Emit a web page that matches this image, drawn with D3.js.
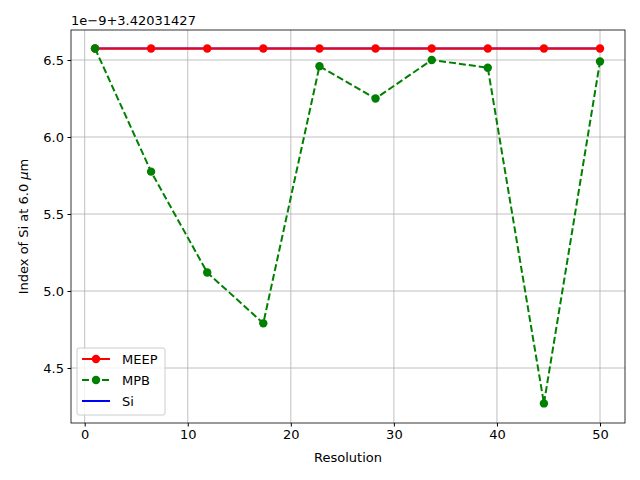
<!DOCTYPE html>
<html><head><meta charset="utf-8">
<script src="https://cdn.jsdelivr.net/npm/d3@7"></script>
<style>body{margin:0;background:#fff}text{font-family:"DejaVu Sans",sans-serif}</style>
</head><body>
<svg id="c" width="640" height="480"></svg>
<script>
// values are offsets in units of 1e-9 above 3.42031427
const resolution = [1, 6.44, 11.89, 17.33, 22.78, 28.22, 33.67, 39.11, 44.56, 50];
const meep = [6.575, 6.575, 6.575, 6.575, 6.575, 6.575, 6.575, 6.575, 6.575, 6.575];
const mpb = [6.575, 5.775, 5.12, 4.79, 6.46, 6.25, 6.50, 6.45, 4.27, 6.49];
const si = [6.575, 6.575];
const xTicks = [0, 10, 20, 30, 40, 50];
const yTicks = [4.5, 5.0, 5.5, 6.0, 6.5];

const L = 71, R = 625, T = 30, B = 423;
const svg = d3.select("#c");
const x = d3.scaleLinear().domain([0, 50]).range([84.7, 600]);
const y = d3.scaleLinear().domain([4.5, 6.5]).range([368, 60]);

// grid
svg.append("g").selectAll("line").data(xTicks).join("line")
  .attr("x1", d => x(d)).attr("x2", d => x(d)).attr("y1", T).attr("y2", B)
  .attr("stroke", "#b0b0b0").attr("stroke-width", 0.8);
svg.append("g").selectAll("line").data(yTicks).join("line")
  .attr("y1", d => y(d)).attr("y2", d => y(d)).attr("x1", L).attr("x2", R)
  .attr("stroke", "#b0b0b0").attr("stroke-width", 0.8);

const line = d3.line().x(d => x(d[0])).y(d => y(d[1]));
svg.append("path").attr("d", line([[resolution[0], si[0]], [resolution[9], si[1]]]))
  .attr("stroke", "blue").attr("stroke-width", 2).attr("fill", "none");
svg.append("path").attr("d", line(resolution.map((r, i) => [r, meep[i]])))
  .attr("stroke", "red").attr("stroke-width", 2).attr("fill", "none");
svg.selectAll(".pm").data(resolution).join("circle")
  .attr("cx", d => x(d)).attr("cy", (d, i) => y(meep[i])).attr("r", 4.2).attr("fill", "red");
svg.append("path").attr("d", line(resolution.map((r, i) => [r, mpb[i]])))
  .attr("stroke", "green").attr("stroke-width", 2).attr("stroke-dasharray", "7,3").attr("fill", "none");
svg.selectAll(".pg").data(resolution).join("circle")
  .attr("cx", d => x(d)).attr("cy", (d, i) => y(mpb[i])).attr("r", 4.2).attr("fill", "green");

// axes
const gx = svg.append("g").attr("transform", `translate(0,${B})`)
  .call(d3.axisBottom(x).tickValues(xTicks).tickSize(3.5).tickPadding(3.5));
const gy = svg.append("g").attr("transform", `translate(${L},0)`)
  .call(d3.axisLeft(y).tickValues(yTicks).tickFormat(d3.format(".1f")).tickSize(3.5).tickPadding(3.5));
[gx, gy].forEach(g => { g.select(".domain").remove(); g.selectAll("text").attr("font-size", 13).attr("fill", "#000"); g.selectAll("line").attr("stroke", "#000"); });
svg.append("rect").attr("x", L).attr("y", T).attr("width", R - L).attr("height", B - T)
  .attr("fill", "none").attr("stroke", "#000").attr("stroke-width", 0.8);

svg.append("text").attr("x", L).attr("y", 25).attr("font-size", 13).text("1e\u22129+3.42031427");
svg.append("text").attr("x", (L + R) / 2).attr("y", 462).attr("text-anchor", "middle").attr("font-size", 13).text("Resolution");
svg.append("text").attr("transform", `translate(28,${(T + B) / 2}) rotate(-90)`).attr("text-anchor", "middle").attr("font-size", 13)
  .html('Index of Si at 6.0 <tspan font-style="italic">\u03bc</tspan>m');

// legend
const lg = svg.append("g").attr("transform", "translate(77,348)");
lg.append("rect").attr("width", 88).attr("height", 67).attr("rx", 2).attr("fill", "#fff").attr("fill-opacity", 0.8).attr("stroke", "#ccc");
const items = [["MEEP", "red", true, null], ["MPB", "green", true, "7,3"], ["Si", "blue", false, null]];
items.forEach((it, i) => {
  const yy = 11 + i * 21;
  lg.append("line").attr("x1", 5).attr("x2", 33).attr("y1", yy).attr("y2", yy).attr("stroke", it[1]).attr("stroke-width", 2).attr("stroke-dasharray", it[3]);
  if (it[2]) lg.append("circle").attr("cx", 19).attr("cy", yy).attr("r", 4.2).attr("fill", it[1]);
  lg.append("text").attr("x", 45).attr("y", yy + 4.5).attr("font-size", 13).text(it[0]);
});
</script>
</body></html>
